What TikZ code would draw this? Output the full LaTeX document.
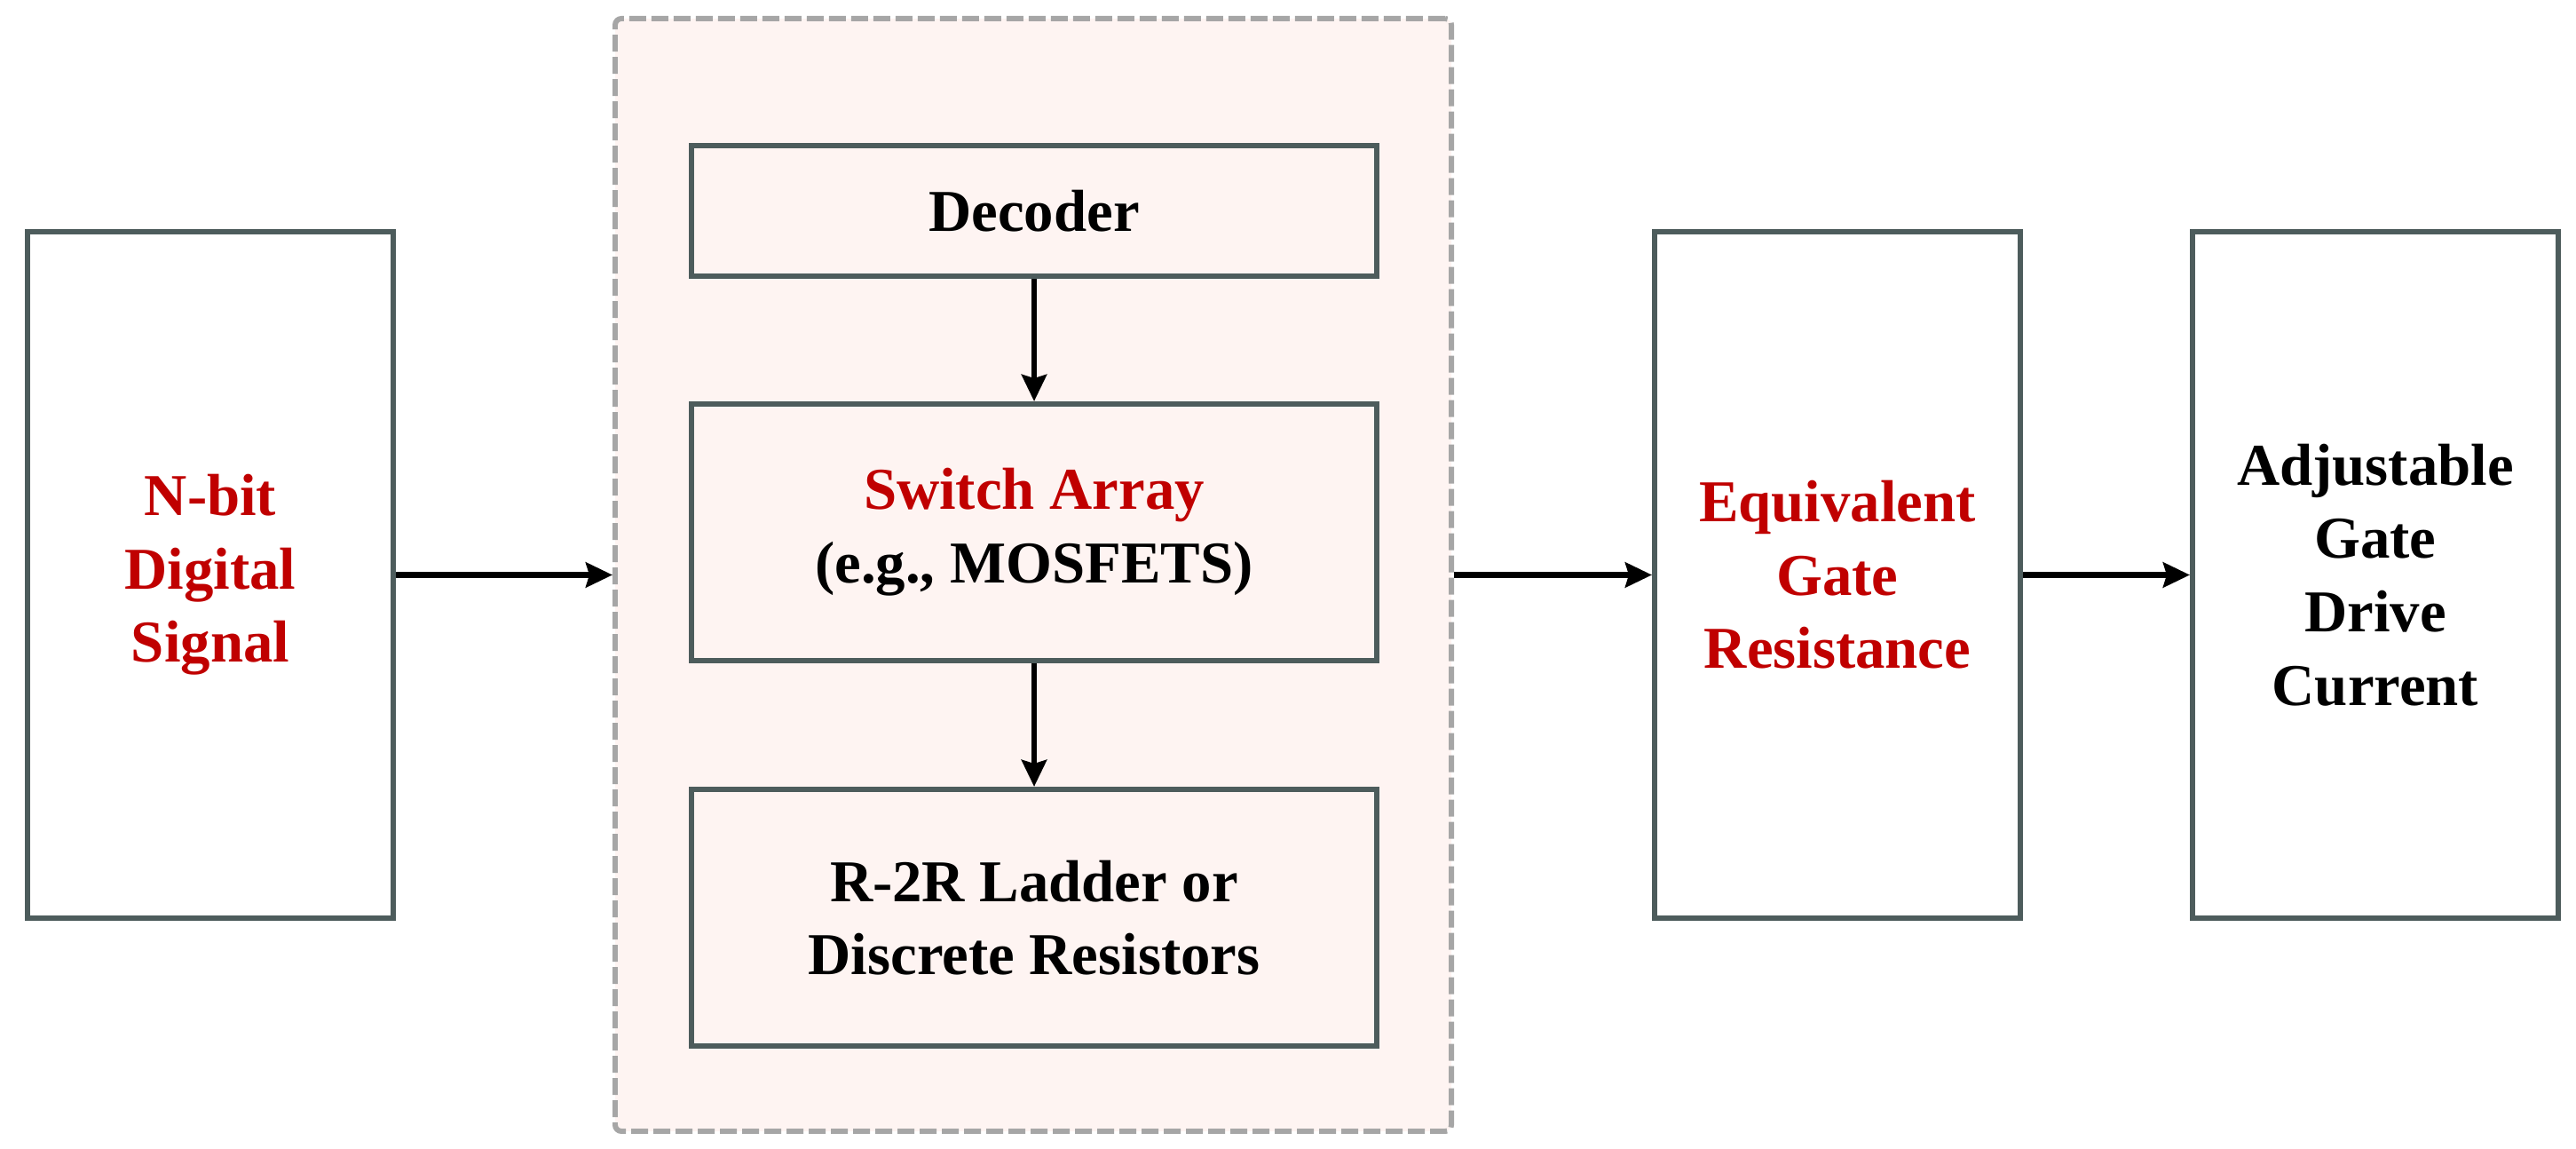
\documentclass[tikz,border=0pt]{standalone}
\usepackage{fontspec}
\setmainfont{Liberation Serif}
\usepackage{xcolor}
\usetikzlibrary{arrows.meta,positioning}
\definecolor{boxline}{HTML}{4D5C5C}
\definecolor{txtred}{HTML}{C00000}
\definecolor{dashgray}{HTML}{A6A6A6}
\definecolor{pinkbg}{HTML}{FEF4F2}

\begin{document}
\begin{tikzpicture}[>={Stealth[length=0.3cm,width=0.28cm,inset=0.04cm]},
  blk/.style={draw=boxline,line width=1.7pt,fill=white,align=center,font=\fontsize{19}{23.5}\selectfont\bfseries},
  inblk/.style={blk,fill=pinkbg,minimum width=7.72cm,minimum height=2.89cm},
  tall/.style={blk,minimum width=4.12cm,minimum height=7.73cm},
  link/.style={->,line width=1.8pt}]
\useasboundingbox (0,0) rectangle (29.02,12.93);
\node[draw=dashgray,fill=pinkbg,dash pattern=on 0.19cm off 0.06cm,line width=1.7pt,rounded corners=2pt,minimum width=9.42cm,minimum height=12.53cm](grp) at (11.64,6.455){};
\node[inblk](sw) at (11.65,6.935){\textcolor{txtred}{Switch Array}\\(e.g., MOSFETS)};
\node[inblk,minimum height=1.47cm,above=1.38cm of sw](dec){Decoder};
\node[inblk,below=1.39cm of sw](lad){R-2R Ladder or\\Discrete Resistors};
\node[tall,text=txtred,left=2.44cm of grp](nbit){N-bit\\Digital\\Signal};
\node[tall,text=txtred,right=2.23cm of grp](eq){Equivalent\\Gate\\Resistance};
\node[tall,right=1.88cm of eq](adj){Adjustable\\Gate\\Drive\\Current};
\draw[link](nbit)--(grp);
\draw[link](grp)--(eq);
\draw[link](eq)--(adj);
\draw[link](dec)--(sw);
\draw[link](sw)--(lad);
\end{tikzpicture}
\end{document}
